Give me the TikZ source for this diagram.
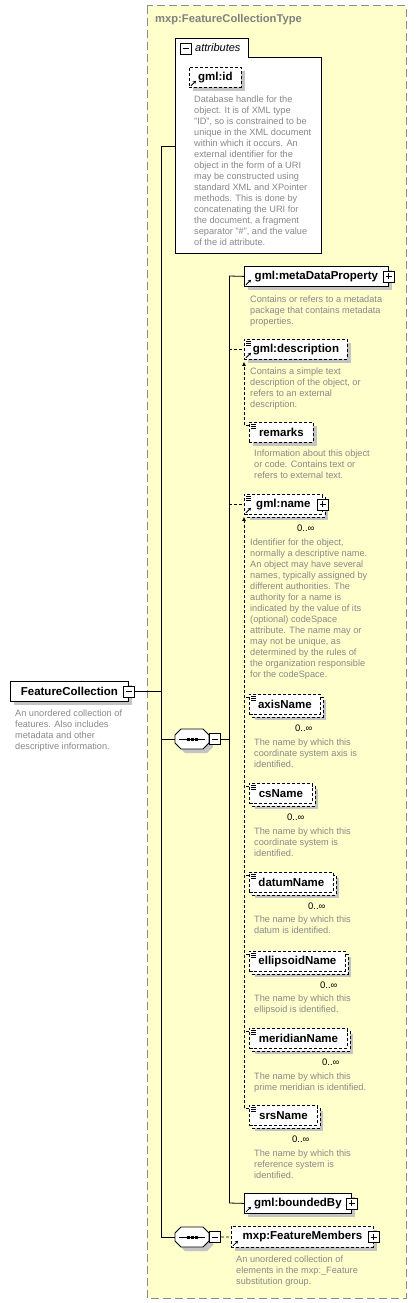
\documentclass[tikz,border=0pt]{standalone}
\usepackage{fontspec}
\setmainfont{Liberation Sans}
\usetikzlibrary{arrows.meta}
\definecolor{bgyellow}{HTML}{FFFFCC}
\definecolor{bgborder}{HTML}{8C8C8C}
\definecolor{descgray}{HTML}{888888}
\definecolor{titlegray}{HTML}{808080}
\definecolor{shadowgray}{HTML}{C4C4C4}
\tikzset{
  elem/.style={draw=black, fill=white, line width=0.8pt, minimum height=20pt, inner sep=0pt, anchor=north west, font=\fontsize{11.5}{13}\selectfont\bfseries},
  optional/.style={dash pattern=on 3pt off 2pt},
  conn/.style={draw=black, line width=0.8pt},
  dconn/.style={conn, dash pattern=on 3pt off 2pt},
  desc/.style={anchor=north west, inner sep=0pt, align=left, text=descgray, font=\fontsize{9.2}{11}\selectfont},
  mult/.style={inner sep=0pt, font=\fontsize{9.5}{11}\selectfont},
  pmbox/.style={draw=black, fill=white, line width=0.8pt, minimum size=11pt, inner sep=0pt},
  minusbox/.style={pmbox, path picture={\draw[line width=0.8pt] ([xshift=-3pt]path picture bounding box.center) -- ([xshift=3pt]path picture bounding box.center);}},
  plusbox/.style={pmbox, path picture={\draw[line width=0.8pt] ([xshift=-3pt]path picture bounding box.center) -- ([xshift=3pt]path picture bounding box.center) ([yshift=-3pt]path picture bounding box.center) -- ([yshift=3pt]path picture bounding box.center);}},
  simpleicon/.style={line width=0.6pt},
  refarrow/.style={line width=0.8pt, -{Stealth[length=3pt,width=3.5pt]}},
  substarrow/.style={dconn, -{Latex[length=4pt,width=4pt]}},
  seqshape/.pic={
    \fill[shadowgray] (4,0) -- (10,-6) -- (32,-6) -- (38,0) -- (38,8) -- (32,14) -- (10,14) -- (4,8) -- cycle;
    \draw[line width=0.8pt, fill=white] (0,-4) -- (6,-10) -- (28,-10) -- (34,-4) -- (34,4) -- (28,10) -- (6,10) -- (0,4) -- cycle;
    \draw[line width=0.8pt] (4,0) -- (30,0);
    \fill (11.5,-1.5) rectangle ++(3,3);
    \fill (15.5,-1.5) rectangle ++(3,3);
    \fill (19.5,-1.5) rectangle ++(3,3);
  }
}
\begin{document}
\begin{tikzpicture}[x=1pt,y=-1pt]
\useasboundingbox (0,0) rectangle (416,1303);
% background type box
\fill[bgyellow] (147,6) rectangle (406,1298);
\draw[bgborder, line width=1pt, dash pattern=on 8pt off 4pt] (147,6) rectangle (406,1298);
\node[anchor=base west, inner sep=0pt, text=titlegray, font=\fontsize{11.2}{13}\selectfont\bfseries] (title) at (155,23) {mxp:FeatureCollectionType};

% attributes box
\draw[line width=0.8pt, fill=white] (175,253) -- (175,38) -- (248,38) -- (248,57) -- (321,57) -- (321,253) -- cycle;
\node[inner sep=0pt, minimum width=146pt, minimum height=215pt, anchor=north west] (attrbox) at (175,38) {};
\node[minusbox] (attrm) at (185.5,48.5) {};
\node[anchor=base west, inner sep=0pt, font=\fontsize{11}{13}\selectfont\itshape] (attrlabel) at (195,52) {attributes};

% gml:id
\fill[shadowgray] (193,71) rectangle (245,91);
\node[elem,optional,minimum width=52pt] (gmlid) at (189,67) {gml:id};
\draw[refarrow] ([shift={(2,-2)}]gmlid.south west) -- ++(5,-5);
\node[desc] (gmliddesc) at (194,94) {\rule{0pt}{8pt}Database handle for the\\object. It is of XML type\\"ID", so is constrained to be\\unique in the XML document\\within which it occurs. An\\external identifier for the\\object in the form of a URI\\may be constructed using\\standard XML and XPointer\\methods. This is done by\\concatenating the URI for\\the document, a fragment\\separator "\#", and the value\\of the id attribute.};

% FeatureCollection
\fill[shadowgray] (14,685) rectangle (132,705);
\node[elem,minimum width=118pt] (fc) at (10,681) {FeatureCollection};
\node[minusbox] (fcm) at (fc.east) {};
\node[desc] (fcdesc) at (15,708) {\rule{0pt}{8pt}An unordered collection of\\features. Also includes\\metadata and other\\descriptive information.};

% left bus
\coordinate (busL) at (161,146);
\coordinate (busLb) at (161,1237);
\draw[conn] (busL) -- (busLb);
\draw[conn] (fcm.east) -- (fcm.east -| busL);
\draw[conn] (busL) -- (busL -| attrbox.west);

% sequence 1
\pic at (175,739) {seqshape};
\node[inner sep=0pt, minimum width=34pt, minimum height=20pt, anchor=west] (seq1) at (175,739) {};
\node[minusbox, anchor=west] (seq1m) at (seq1.east) {};
\draw[conn] (seq1.west -| busL) -- (seq1.west);

% sequence 2
\pic at (175,1237) {seqshape};
\node[inner sep=0pt, minimum width=34pt, minimum height=20pt, anchor=west] (seq2) at (175,1237) {};
\node[minusbox, anchor=west] (seq2m) at (seq2.east) {};
\draw[conn] (busLb) -- (seq2.west);

% right bus
\coordinate (busR) at (229,276);
\coordinate (busRb) at (229,1203);
\draw[conn] (busR) -- (busRb);
\draw[conn] (seq1m.east) -- (seq1m.east -| busR);

% gml:metaDataProperty
\fill[shadowgray] (248,270) rectangle (392,290);
\node[elem,minimum width=144pt] (mdp) at (244,266) {gml:metaDataProperty};
\node[plusbox] (mdpp) at (mdp.east) {};
\draw[refarrow] ([shift={(2,-2)}]mdp.south west) -- ++(5,-5);
\node[desc] (mdpdesc) at (250,294) {\rule{0pt}{8pt}Contains or refers to a metadata\\package that contains metadata\\properties.};
\draw[conn] (busR) -- (mdp.west);

% gml:description
\fill[shadowgray] (248,343) rectangle (351,363);
\node[elem,optional,minimum width=103pt] (desc) at (244,339) {gml:description};
\draw[simpleicon] ([shift={(2,2)}]desc.north west) -- ++(5,0) ([shift={(2,4)}]desc.north west) -- ++(5,0) ([shift={(2,6)}]desc.north west) -- ++(5,0);
\draw[refarrow] ([shift={(2,-2)}]desc.south west) -- ++(5,-5);
\node[desc] (descdesc) at (250,366) {\rule{0pt}{8pt}Contains a simple text\\description of the object, or\\refers to an external\\description.};
\draw[dconn] (desc.west -| busR) -- (desc.west);

% remarks
\fill[shadowgray] (253,426) rectangle (317,446);
\node[elem,optional,minimum width=64pt] (remarks) at (249,422) {remarks};
\draw[simpleicon] ([shift={(2,2)}]remarks.north west) -- ++(5,0) ([shift={(2,4)}]remarks.north west) -- ++(5,0) ([shift={(2,6)}]remarks.north west) -- ++(5,0);
\node[desc] (remarksdesc) at (254,448) {\rule{0pt}{8pt}Information about this object\\or code. Contains text or\\refers to external text.};
\coordinate (subA) at (244,425);
\draw[dconn] ([yshift=-3pt]remarks.north west) -- (subA);
\draw[substarrow] (subA) -- ([yshift=-2pt]desc.south west);

% gml:name (multiple)
\fill[shadowgray] (250,500) rectangle (328,520);
\draw[line width=0.8pt, optional, fill=white] (247,497) rectangle (325,517);
\node[elem,optional,minimum width=78pt] (name) at (244,494) {gml:name};
\node[plusbox] (namep) at (name.east) {};
\draw[simpleicon] ([shift={(2,2)}]name.north west) -- ++(5,0) ([shift={(2,4)}]name.north west) -- ++(5,0) ([shift={(2,6)}]name.north west) -- ++(5,0);
\draw[refarrow] ([shift={(2,-2)}]name.south west) -- ++(5,-5);
\node[mult] (namemult) at ([shift={(-17,13)}]name.south east) {0..∞};
\node[desc] (namedesc) at (250,537) {\rule{0pt}{8pt}Identifier for the object,\\normally a descriptive name.\\An object may have several\\names, typically assigned by\\different authorities. The\\authority for a name is\\indicated by the value of its\\(optional) codeSpace\\attribute. The name may or\\may not be unique, as\\determined by the rules of\\the organization responsible\\for the codeSpace.};
\draw[dconn] (name.west -| busR) -- (name.west);

% substitution members of gml:name
\coordinate (subB) at (244,1108);
\draw[substarrow] (subB) -- ([yshift=-2pt]name.south west);

% axisName
\fill[shadowgray] (255,700) rectangle (326,720);
\draw[line width=0.8pt, optional, fill=white] (252,697) rectangle (323,717);
\node[elem,optional,minimum width=71pt] (axis) at (249,694) {axisName};
\draw[simpleicon] ([shift={(2,2)}]axis.north west) -- ++(5,0) ([shift={(2,4)}]axis.north west) -- ++(5,0) ([shift={(2,6)}]axis.north west) -- ++(5,0);
\node[mult] (axismult) at ([shift={(-17,13)}]axis.south east) {0..∞};
\node[desc] (axisdesc) at (254,737) {\rule{0pt}{8pt}The name by which this\\coordinate system axis is\\identified.};
\draw[dconn] ([yshift=-3pt]axis.north west) -- ++(-5,0);

% csName
\fill[shadowgray] (255,789) rectangle (318,809);
\draw[line width=0.8pt, optional, fill=white] (252,786) rectangle (315,806);
\node[elem,optional,minimum width=63pt] (cs) at (249,783) {csName};
\draw[simpleicon] ([shift={(2,2)}]cs.north west) -- ++(5,0) ([shift={(2,4)}]cs.north west) -- ++(5,0) ([shift={(2,6)}]cs.north west) -- ++(5,0);
\node[mult] (csmult) at ([shift={(-17,13)}]cs.south east) {0..∞};
\node[desc] (csdesc) at (254,826) {\rule{0pt}{8pt}The name by which this\\coordinate system is\\identified.};
\draw[dconn] ([yshift=-3pt]cs.north west) -- ++(-5,0);

% datumName
\fill[shadowgray] (255,878) rectangle (339,898);
\draw[line width=0.8pt, optional, fill=white] (252,875) rectangle (336,895);
\node[elem,optional,minimum width=84pt] (datum) at (249,872) {datumName};
\draw[simpleicon] ([shift={(2,2)}]datum.north west) -- ++(5,0) ([shift={(2,4)}]datum.north west) -- ++(5,0) ([shift={(2,6)}]datum.north west) -- ++(5,0);
\node[mult] (datummult) at ([shift={(-17,13)}]datum.south east) {0..∞};
\node[desc] (datumdesc) at (254,914) {\rule{0pt}{8pt}The name by which this\\datum is identified.};
\draw[dconn] ([yshift=-3pt]datum.north west) -- ++(-5,0);

% ellipsoidName
\fill[shadowgray] (255,957) rectangle (351,977);
\draw[line width=0.8pt, optional, fill=white] (252,954) rectangle (348,974);
\node[elem,optional,minimum width=96pt] (ellipsoid) at (249,951) {ellipsoidName};
\draw[simpleicon] ([shift={(2,2)}]ellipsoid.north west) -- ++(5,0) ([shift={(2,4)}]ellipsoid.north west) -- ++(5,0) ([shift={(2,6)}]ellipsoid.north west) -- ++(5,0);
\node[mult] (ellipsoidmult) at ([shift={(-17,13)}]ellipsoid.south east) {0..∞};
\node[desc] (ellipsoiddesc) at (254,993) {\rule{0pt}{8pt}The name by which this\\ellipsoid is identified.};
\draw[dconn] ([yshift=-3pt]ellipsoid.north west) -- ++(-5,0);

% meridianName
\fill[shadowgray] (255,1034) rectangle (353,1054);
\draw[line width=0.8pt, optional, fill=white] (252,1031) rectangle (350,1051);
\node[elem,optional,minimum width=98pt] (meridian) at (249,1028) {meridianName};
\draw[simpleicon] ([shift={(2,2)}]meridian.north west) -- ++(5,0) ([shift={(2,4)}]meridian.north west) -- ++(5,0) ([shift={(2,6)}]meridian.north west) -- ++(5,0);
\node[mult] (meridianmult) at ([shift={(-17,13)}]meridian.south east) {0..∞};
\node[desc] (meridiandesc) at (254,1071) {\rule{0pt}{8pt}The name by which this\\prime meridian is identified.};
\draw[dconn] ([yshift=-3pt]meridian.north west) -- ++(-5,0);

% srsName
\fill[shadowgray] (255,1111) rectangle (323,1131);
\draw[line width=0.8pt, optional, fill=white] (252,1108) rectangle (320,1128);
\node[elem,optional,minimum width=68pt] (srs) at (249,1105) {srsName};
\draw[simpleicon] ([shift={(2,2)}]srs.north west) -- ++(5,0) ([shift={(2,4)}]srs.north west) -- ++(5,0) ([shift={(2,6)}]srs.north west) -- ++(5,0);
\node[mult] (srsmult) at ([shift={(-17,13)}]srs.south east) {0..∞};
\node[desc] (srsdesc) at (254,1148) {\rule{0pt}{8pt}The name by which this\\reference system is\\identified.};
\draw[dconn] ([yshift=-3pt]srs.north west) -- (subB);

% gml:boundedBy
\fill[shadowgray] (248,1197) rectangle (355,1217);
\node[elem,minimum width=107pt] (bbox) at (244,1193) {gml:boundedBy};
\node[plusbox] (bboxp) at (bbox.east) {};
\draw[refarrow] ([shift={(2,-2)}]bbox.south west) -- ++(5,-5);
\draw[conn] (busRb) -- (bbox.west);

% mxp:FeatureMembers
\fill[shadowgray] (235,1230) rectangle (377,1251);
\node[elem,optional,minimum width=142pt,minimum height=21pt] (fm) at (231,1226) {mxp:FeatureMembers};
\node[plusbox] (fmp) at (fm.east) {};
\draw[refarrow] ([shift={(2,-2)}]fm.south west) -- ++(5,-5);
\node[desc] (fmdesc) at (236,1254) {\rule{0pt}{8pt}An unordered collection of\\elements in the mxp:\_Feature\\substitution group.};
\draw[dconn] (seq2m.east) -- (fm.west);
\end{tikzpicture}
\end{document}
